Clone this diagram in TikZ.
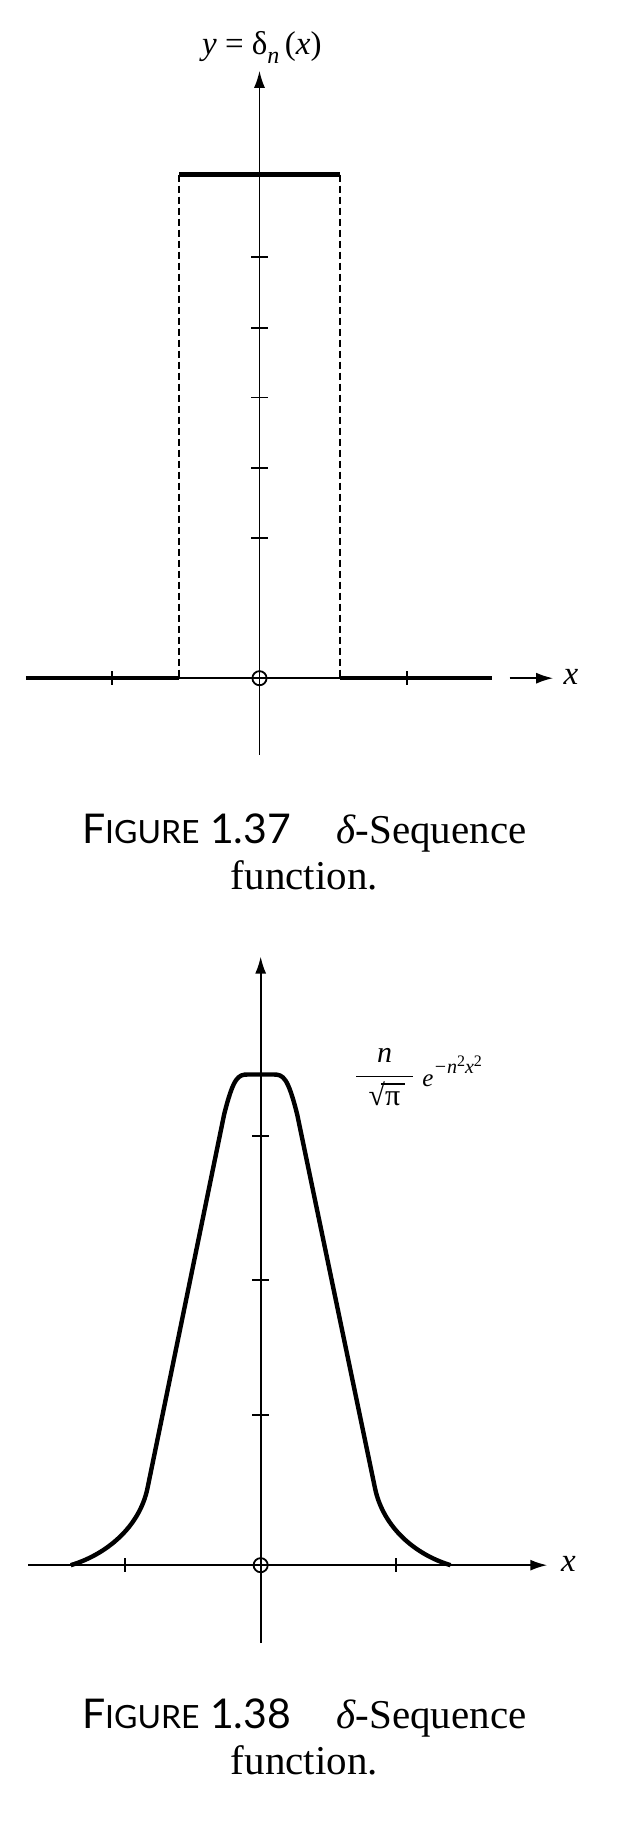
\RequirePackage{fix-cm}
\documentclass[tikz,border=0pt]{standalone}
\usepackage{fontspec}
\setmainfont{Liberation Serif}
\newfontfamily\capfont{Lato}
\usetikzlibrary{arrows.meta}
\begin{document}
\begin{tikzpicture}[x=1.1796pt,y=-1.1796pt,
  axis/.style={line width=1.8pt},
  thick line/.style={line width=4.4pt},
  tip/.style={-{Latex[length=17pt,width=11pt]}},
  capt/.style={font=\fontsize{41}{46}\selectfont, align=center},
  lab/.style={font=\fontsize{33}{36}\selectfont}]
\useasboundingbox (0,0) rectangle (540,1549);
\newcommand{\figcap}[1]{{\capfont F\fontsize{32}{46}\selectfont IGURE\fontsize{41}{46}\selectfont\ #1}\hspace{1.1em}\textit{δ}-Sequence\\function.}
% ---------- Figure 1.37 ----------
\coordinate (o1) at (220,575);
\coordinate (yb1) at (220,640);
\coordinate (yt1) at (220,60);
\draw[axis,tip] (yb1) -- (yt1);
\node[lab] (ylab) at (222,40) {\textit{y} = δ\raisebox{-0.6ex}{\fontsize{24}{24}\selectfont\itshape n}\,(\textit{x})};
\coordinate (xl1) at (22,575);
\coordinate (xr1) at (417,575);
\draw[axis] (xl1) -- (xr1);
\draw[thick line] (xl1) -- (152,575);
\draw[thick line] (288,575) -- (xr1);
\draw[thick line] (152,148) -- (288,148);
\draw[axis,dash pattern=on 7pt off 4pt] (152,148) -- (152,575);
\draw[axis,dash pattern=on 7pt off 4pt] (288,148) -- (288,575);
\foreach \yy in {218,278,337,397,456} \draw[axis] (213,\yy) -- (227,\yy);
\foreach \xx in {95,345} \draw[axis] (\xx,569) -- (\xx,581);
\draw[axis] (o1) circle (6);
\coordinate (a1s) at (432,575);
\coordinate (a1e) at (469,575);
\draw[axis,tip] (a1s) -- (a1e);
\node[lab,font=\fontsize{33}{36}\selectfont\itshape] (xlab1) at (484,574) {x};
\node[capt] (cap1) at (258,722) {\figcap{1.37}};
% ---------- Figure 1.38 ----------
\coordinate (o2) at (221,1327);
\draw[axis,tip] (221,1393) -- (221,811);
\draw[axis,tip] (24,1327) -- (464,1327);
\node[lab,font=\fontsize{33}{36}\selectfont\itshape] (xlab2) at (482,1326) {x};
\foreach \yy in {963,1085,1200} \draw[axis] (214,\yy) -- (228,\yy);
\foreach \xx in {106,336} \draw[axis] (\xx,1321) -- (\xx,1333);
\draw[axis] (o2) circle (6);
\draw[thick line,line join=round]
  (60,1327) .. controls (90,1318) and (118,1295) .. (125,1262)
  -- (190,945) .. controls (198,913) and (202,911) .. (210,911)
  -- (232,911) .. controls (240,911) and (244,913) .. (252,945)
  -- (318,1262) .. controls (325,1295) and (352,1318) .. (382,1327);
% formula label
\node[font=\fontsize{30}{30}\selectfont\itshape,inner sep=0pt] (fnum) at (326,895) {n};
\draw[line width=1.2pt] (302,913) -- (350,913);
\node[font=\fontsize{30}{30}\selectfont,inner sep=0pt,anchor=north] (fden) at (326,917) {√π};
\draw[line width=1.2pt] (fden.north) ++(-3,2) -- ++(20,0);
\node[font=\fontsize{25}{25}\selectfont,inner sep=0pt,anchor=west] (fexp) at (358,908) {\textit{e}\raisebox{1.1ex}{\fontsize{20}{20}\selectfont\textit{−n}\raisebox{0.8ex}{\fontsize{16}{16}\selectfont 2}\textit{x}\raisebox{0.8ex}{\fontsize{16}{16}\selectfont 2}}};
\node[capt] (cap2) at (258,1473) {\figcap{1.38}};
\end{tikzpicture}
\end{document}
